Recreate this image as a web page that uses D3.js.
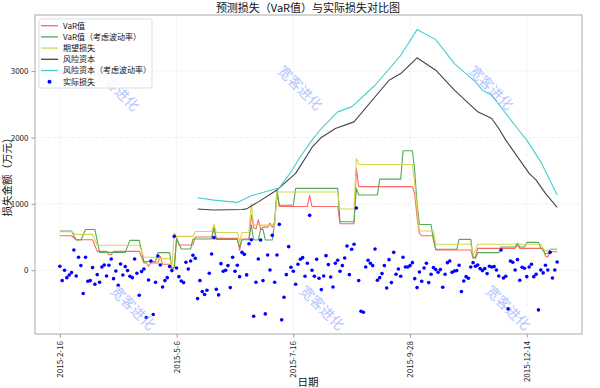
<!DOCTYPE html>
<html>
<head>
<meta charset="utf-8">
<script src="https://cdn.jsdelivr.net/npm/d3@7/dist/d3.min.js"></script>
<style>
  body { margin: 0; background: #fff; }
  text { font-family: "Noto Sans CJK SC", "DejaVu Sans", sans-serif; }
</style>
</head>
<body>
<div id="chart"></div>
<script>
// x positions are trading-day indices, labelled every 50 days
const tickIdx = [0, 50, 100, 150, 200];
const tickLabels = ['2015-2-16', '2015-5-6', '2015-7-16', '2015-9-28', '2015-12-14'];
const yTicks = [0, 1000, 2000, 3000];

// 实际损失 (one value per trading day)
const actualLoss = [
  60, -156, 0, -111, -71, -35, 305, -86, 195, 70,
  -351, 195, -166, -156, 40, -211, -66, -181, 50, 80,
  -86, 75, 170, -126, -10, -226, 95, -71, 55, -5,
  -91, -111, 170, -45, -376, -20, 20, -712, -146, 140,
  -667, -181, 215, 80, -251, -156, -111, 55, -5, 511,
  35, -96, -161, -186, 120, 20, 140, 226, 180, -427,
  -156, -321, -366, -301, -45, 245, 491, -286, -371, 100,
  -15, 0, 70, -261, 195, -15, 75, -96, 270, 240,
  -70, 400, 460, -692, -181, 170, 456, -156, -657, 230,
  5, 526, -181, 230, 692, -747, -406, -66, 356, 45,
  -15, -211, 90, 165, 190, -91, 105, 827, 0, -91,
  165, -120, -291, -86, 220, 85, -101, -251, 105, 150,
  -15, 70, 185, 365, -66, 316, 391, 937, -156, -617,
  -632, 50, 150, 105, 70, 320, -151, -111, -50, 70,
  -266, 160, -186, 270, -60, 20, -91, 195, 50, 50,
  70, 115, -126, -261, -25, -166, 35, 105, -186, -60,
  40, 10, -30, 10, -256, -60, 115, 140, -30, -10,
  -5, 75, -321, -161, -96, -121, 50, 115, 60, 80,
  25, -5, 25, -50, 60, 50, 55, 5, -86, 305,
  -116, -91, -582, 140, 120, 5, 160, -151, 45, 30,
  -96, 50, 90, -96, -60, -597, 5, -40, 75, 5,
  270, -116, 5, 125
];

// line vertices as [day index, value]
const varPts = [
  [0, 520], [5, 520], [7, 460], [14, 460], [16, 285], [20, 285], [21, 235], [22, 235], [23, 285],
  [34, 285], [36, 110], [37, 110], [38, 60], [39, 110], [42, 110], [43, 210], [44, 90], [47, 90],
  [48, 20], [49, 40], [50, 490], [51, 380], [57, 380], [58, 500], [65, 500], [66, 640], [67, 480],
  [76, 480], [77, 300], [78, 470], [81, 470], [82, 830], [83, 640], [84, 620], [85, 760], [86, 620],
  [87, 650], [89, 650], [90, 710], [91, 650], [92, 730], [93, 1160], [94, 960], [106, 960], [107, 1130],
  [108, 960], [119, 960], [120, 700], [126, 700], [127, 1530], [128, 1260], [151, 1260], [152, 1150],
  [153, 800], [154, 560], [155, 520], [160, 520], [161, 305], [176, 305], [177, 180], [178, 200],
  [179, 330], [195, 330], [196, 380], [197, 330], [207, 330], [208, 210], [209, 200], [210, 280], [213, 280]
];
const varVolPts = [
  [0, 590], [5, 590], [7, 456], [9, 456], [11, 615], [15, 615], [17, 270], [28, 270], [30, 450],
  [34, 450], [36, 130], [41, 130], [42, 265], [47, 265], [48, 30], [49, 40], [50, 470], [51, 400],
  [52, 320], [56, 320], [57, 470], [65, 470], [66, 650], [67, 465], [76, 465], [77, 356], [78, 460],
  [81, 460], [82, 680], [83, 460], [85, 456], [86, 616], [87, 616], [88, 456], [91, 456], [92, 716],
  [93, 1210], [94, 980], [100, 980], [101, 1233], [119, 1233], [120, 730], [126, 730], [127, 1233],
  [128, 1133], [136, 1133], [137, 1373], [146, 1373], [147, 1800], [151, 1800], [152, 1500], [153, 1000],
  [154, 690], [159, 690], [160, 450], [161, 316], [170, 316], [171, 466], [176, 466], [177, 200],
  [178, 180], [179, 265], [188, 265], [189, 350], [195, 350], [196, 406], [197, 350], [199, 350],
  [200, 420], [205, 420], [206, 330], [207, 300], [208, 245], [209, 250], [210, 316], [213, 316]
];
const esPts = [
  [0, 580], [5, 580], [7, 540], [14, 540], [16, 376], [34, 376], [36, 195], [41, 195], [42, 175],
  [47, 175], [48, 50], [49, 560], [50, 510], [57, 510], [58, 585], [65, 585], [66, 690], [67, 570],
  [76, 570], [77, 430], [78, 570], [81, 570], [82, 1000], [83, 680], [92, 680], [93, 1180],
  [119, 1180], [120, 922], [126, 922], [127, 1684], [128, 1594], [151, 1594], [152, 1300], [153, 900],
  [154, 591], [160, 591], [161, 391], [176, 391], [177, 245], [178, 300], [179, 391], [195, 391],
  [196, 410], [197, 391], [206, 391], [207, 330], [208, 290], [209, 300], [210, 316], [213, 316]
];
const capPts = [
  [59, 922], [66, 907], [78, 915], [80, 925], [85, 1030], [93, 1210], [101, 1460], [108, 1850],
  [112, 2000], [118, 2135], [126, 2235], [141, 2862], [146, 2963], [153, 3200], [161, 3013],
  [169, 2712], [179, 2386], [185, 2286], [188, 2135], [191, 1960], [201, 1459], [204, 1358],
  [208, 1158], [213, 947]
];
const capVolPts = [
  [59, 1092], [66, 1057], [76, 1022], [82, 1122], [88, 1182], [94, 1243], [99, 1483], [103, 1709],
  [108, 1960], [112, 2135], [119, 2386], [125, 2461], [135, 2787], [146, 3238], [153, 3625],
  [161, 3474], [169, 3113], [178, 2837], [181, 2712], [185, 2637], [196, 2135], [200, 1960],
  [206, 1633], [213, 1132]
];

const seriesNames = ['VaR值', 'VaR值（考虑波动率）', '期望损失', '风险资本', '风险资本（考虑波动率）', '实际损失'];

function drawChart() {
    const W = 600, H = 388;
    const margin = { top: 15, right: 18, bottom: 54, left: 35 };
    const width = W - margin.left - margin.right;
    const height = H - margin.top - margin.bottom;

    const svg = d3.select('#chart')
        .append('svg')
        .attr('width', W)
        .attr('height', H);
    const g = svg.append('g')
        .attr('transform', 'translate(' + margin.left + ',' + margin.top + ')');

    const n = actualLoss.length - 1;
    const x = d3.scaleLinear()
        .domain([-n * 0.05, n * 1.05])
        .range([0, width]);
    const y = d3.scaleLinear()
        .domain([-960, 3845])
        .range([height, 0]);

    // grid
    g.append('g').selectAll('line')
        .data(yTicks)
        .enter().append('line')
        .attr('x1', 0).attr('x2', width)
        .attr('y1', d => y(d)).attr('y2', d => y(d))
        .attr('stroke', '#ececec').attr('stroke-dasharray', '4,2').attr('stroke-width', 0.8);
    g.append('g').selectAll('line')
        .data(tickIdx)
        .enter().append('line')
        .attr('x1', d => x(d)).attr('x2', d => x(d))
        .attr('y1', 0).attr('y2', height)
        .attr('stroke', '#ececec').attr('stroke-dasharray', '4,2').attr('stroke-width', 0.8);

    // axes
    const xAxis = g.append('g')
        .attr('transform', 'translate(0,' + height + ')')
        .call(d3.axisBottom(x).tickValues(tickIdx).tickFormat((d, i) => tickLabels[i]).tickSize(3.5).tickPadding(3));
    xAxis.selectAll('text')
        .attr('transform', 'rotate(-90)')
        .attr('text-anchor', 'end')
        .attr('x', -7)
        .attr('y', 0)
        .attr('dy', '0.32em')
        .attr('font-size', 8)
        .attr('fill', '#222');
    const yAxis = g.append('g')
        .call(d3.axisLeft(y).tickValues(yTicks).tickFormat(d3.format('d')).tickSize(3.5).tickPadding(3));
    yAxis.selectAll('text').attr('font-size', 8).attr('fill', '#222');
    [xAxis, yAxis].forEach(a => {
        a.select('.domain').remove();
        a.selectAll('line').attr('stroke', '#999');
    });

    // frame
    g.append('rect')
        .attr('width', width).attr('height', height)
        .attr('fill', 'none').attr('stroke', '#aaa').attr('stroke-width', 1);

    // watermark
    const wm = [[117, 89], [300, 88], [491, 88], [133, 308], [322, 308], [508, 308]];
    svg.append('g').selectAll('text')
        .data(wm)
        .enter().append('text')
        .attr('transform', d => 'translate(' + d[0] + ',' + d[1] + ') rotate(45)')
        .attr('text-anchor', 'middle')
        .attr('dy', '0.35em')
        .attr('font-size', 14)
        .attr('fill', '#7b95ff')
        .attr('opacity', 0.55)
        .text('宽客进化');

    const line = d3.line()
        .x(d => x(d[0]))
        .y(d => y(d[1]));

    const lines = [
        { pts: varPts, color: '#ff6666' },
        { pts: varVolPts, color: '#55aa55' },
        { pts: esPts, color: '#d6d650' },
        { pts: capPts, color: '#444444' },
        { pts: capVolPts, color: '#45cfcf' },
    ];
    lines.forEach(s => {
        g.append('path')
            .datum(s.pts)
            .attr('fill', 'none')
            .attr('stroke', s.color)
            .attr('stroke-width', 1.1)
            .attr('stroke-linejoin', 'round')
            .attr('d', line);
    });

    // actual loss points
    g.append('g').selectAll('circle')
        .data(actualLoss)
        .enter().append('circle')
        .attr('cx', (d, i) => x(i))
        .attr('cy', d => y(d))
        .attr('r', 1.8)
        .attr('fill', '#0000ff');

    // title and labels
    svg.append('text')
        .attr('x', 308).attr('y', 12)
        .attr('text-anchor', 'middle')
        .attr('font-size', 11)
        .attr('fill', '#111')
        .text('预测损失（VaR值）与实际损失对比图');
    svg.append('text')
        .attr('x', 308).attr('y', 386)
        .attr('text-anchor', 'middle')
        .attr('font-size', 10.5)
        .attr('fill', '#111')
        .text('日期');
    svg.append('text')
        .attr('transform', 'translate(11,' + (margin.top + height / 2) + ') rotate(-90)')
        .attr('text-anchor', 'middle')
        .attr('font-size', 10.5)
        .attr('fill', '#111')
        .text('损失金额（万元）');

    // legend
    const lg = svg.append('g').attr('transform', 'translate(39,19)');
    lg.append('rect')
        .attr('width', 113).attr('height', 69)
        .attr('rx', 2)
        .attr('fill', '#fff').attr('fill-opacity', 0.85)
        .attr('stroke', '#ddd');
    const colors = lines.map(s => s.color).concat(['#0000ff']);
    seriesNames.forEach((name, i) => {
        const yy = 6.7 + i * 11.2;
        if (i < 5) {
            lg.append('line')
                .attr('x1', 2).attr('x2', 19)
                .attr('y1', yy).attr('y2', yy)
                .attr('stroke', colors[i]).attr('stroke-width', 1.3);
        } else {
            lg.append('circle')
                .attr('cx', 10.5).attr('cy', yy).attr('r', 2)
                .attr('fill', colors[i]);
        }
        lg.append('text')
            .attr('x', 24).attr('y', yy)
            .attr('dy', '0.35em')
            .attr('font-size', 8)
            .attr('fill', '#111')
            .text(name);
    });
}

drawChart();
</script>
</body>
</html>
